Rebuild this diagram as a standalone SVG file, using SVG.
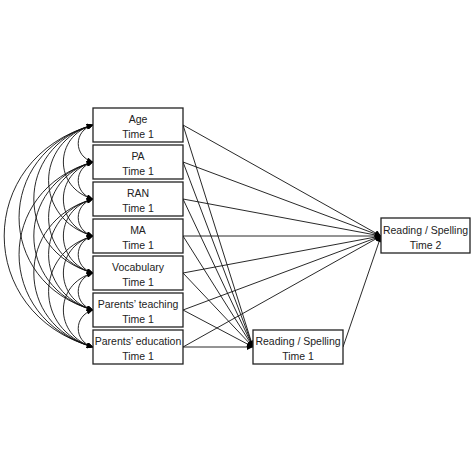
<svg xmlns="http://www.w3.org/2000/svg" width="474" height="474" viewBox="0 0 474 474">
<defs>
<marker id="ah" viewBox="0 0 10 10" refX="10" refY="5" markerWidth="7" markerHeight="6" markerUnits="userSpaceOnUse" orient="auto-start-reverse">
<path d="M0,0 L10,5 L0,10 z" fill="#000"/>
</marker>
<style>
.box{fill:#fff;stroke:#222;stroke-width:1.3}
.t{font-family:"Liberation Sans",Arial,Helvetica,sans-serif;font-size:10.5px;fill:#222;text-anchor:middle}
.c{fill:none;stroke:#111;stroke-width:0.9;marker-start:url(#ah);marker-end:url(#ah)}
.p{fill:none;stroke:#111;stroke-width:0.9;marker-end:url(#ah)}
</style>
</defs>
<rect width="474" height="474" fill="#fff"/>
<g id="connectors">
<path class="c" d="M93,125 C73.3,130.6 73.3,156.4 93,162"/>
<path class="c" d="M93,162 C73.3,167.6 73.3,193.4 93,199"/>
<path class="c" d="M93,199 C73.3,204.6 73.3,230.4 93,236"/>
<path class="c" d="M93,236 C73.3,241.6 73.3,267.4 93,273"/>
<path class="c" d="M93,273 C73.3,278.6 73.3,304.4 93,310"/>
<path class="c" d="M93,310 C73.3,315.6 73.3,341.4 93,347"/>
<path class="c" d="M93,125 C53.5,136.1 53.5,187.9 93,199"/>
<path class="c" d="M93,162 C53.5,173.1 53.5,224.9 93,236"/>
<path class="c" d="M93,199 C53.5,210.1 53.5,261.9 93,273"/>
<path class="c" d="M93,236 C53.5,247.1 53.5,298.9 93,310"/>
<path class="c" d="M93,273 C53.5,284.1 53.5,335.9 93,347"/>
<path class="c" d="M93,125 C33.8,141.7 33.8,219.3 93,236"/>
<path class="c" d="M93,162 C33.8,178.7 33.8,256.3 93,273"/>
<path class="c" d="M93,199 C33.8,215.7 33.8,293.3 93,310"/>
<path class="c" d="M93,236 C33.8,252.7 33.8,330.3 93,347"/>
<path class="c" d="M93,125 C14.1,147.2 14.1,250.8 93,273"/>
<path class="c" d="M93,162 C14.1,184.2 14.1,287.8 93,310"/>
<path class="c" d="M93,199 C14.1,221.2 14.1,324.8 93,347"/>
<path class="c" d="M93,125 C-5.6,152.8 -5.6,282.2 93,310"/>
<path class="c" d="M93,162 C-5.6,189.8 -5.6,319.2 93,347"/>
<path class="c" d="M93,125 C-25.4,158.3 -25.4,313.7 93,347"/>
<path class="p" d="M183,125 L381,236"/>
<path class="p" d="M183,162 L381,236"/>
<path class="p" d="M183,199 L381,236"/>
<path class="p" d="M183,236 L381,236"/>
<path class="p" d="M183,273 L381,236"/>
<path class="p" d="M183,310 L381,236"/>
<path class="p" d="M183,347 L381,236"/>
<path class="p" d="M183,125 L253,347"/>
<path class="p" d="M183,162 L253,347"/>
<path class="p" d="M183,199 L253,347"/>
<path class="p" d="M183,236 L253,347"/>
<path class="p" d="M183,273 L253,347"/>
<path class="p" d="M183,310 L253,347"/>
<path class="p" d="M183,347 L253,347"/>
<path class="p" d="M343,347 L381,236"/>
</g>
<g id="age"><rect class="box" x="93" y="108" width="90" height="34"/><text class="t" x="138" y="123">Age</text><text class="t" x="138" y="138">Time 1</text></g>
<g id="pa"><rect class="box" x="93" y="145" width="90" height="34"/><text class="t" x="138" y="160">PA</text><text class="t" x="138" y="175">Time 1</text></g>
<g id="ran"><rect class="box" x="93" y="182" width="90" height="34"/><text class="t" x="138" y="197">RAN</text><text class="t" x="138" y="212">Time 1</text></g>
<g id="ma"><rect class="box" x="93" y="219" width="90" height="34"/><text class="t" x="138" y="234">MA</text><text class="t" x="138" y="249">Time 1</text></g>
<g id="vocabulary"><rect class="box" x="93" y="256" width="90" height="34"/><text class="t" x="138" y="271">Vocabulary</text><text class="t" x="138" y="286">Time 1</text></g>
<g id="parents-teaching"><rect class="box" x="93" y="293" width="90" height="34"/><text class="t" x="138" y="308">Parents’ teaching</text><text class="t" x="138" y="323">Time 1</text></g>
<g id="parents-education"><rect class="box" x="93" y="330" width="90" height="34"/><text class="t" x="138" y="345">Parents’ education</text><text class="t" x="138" y="360">Time 1</text></g>
<g id="rs-time1"><rect class="box" x="253" y="330" width="90" height="34"/><text class="t" x="298" y="345">Reading / Spelling</text><text class="t" x="298" y="360">Time 1</text></g>
<g id="rs-time2"><rect class="box" x="381" y="218" width="89" height="35"/><text class="t" x="425.5" y="234">Reading / Spelling</text><text class="t" x="425.5" y="249">Time 2</text></g>
</svg>
